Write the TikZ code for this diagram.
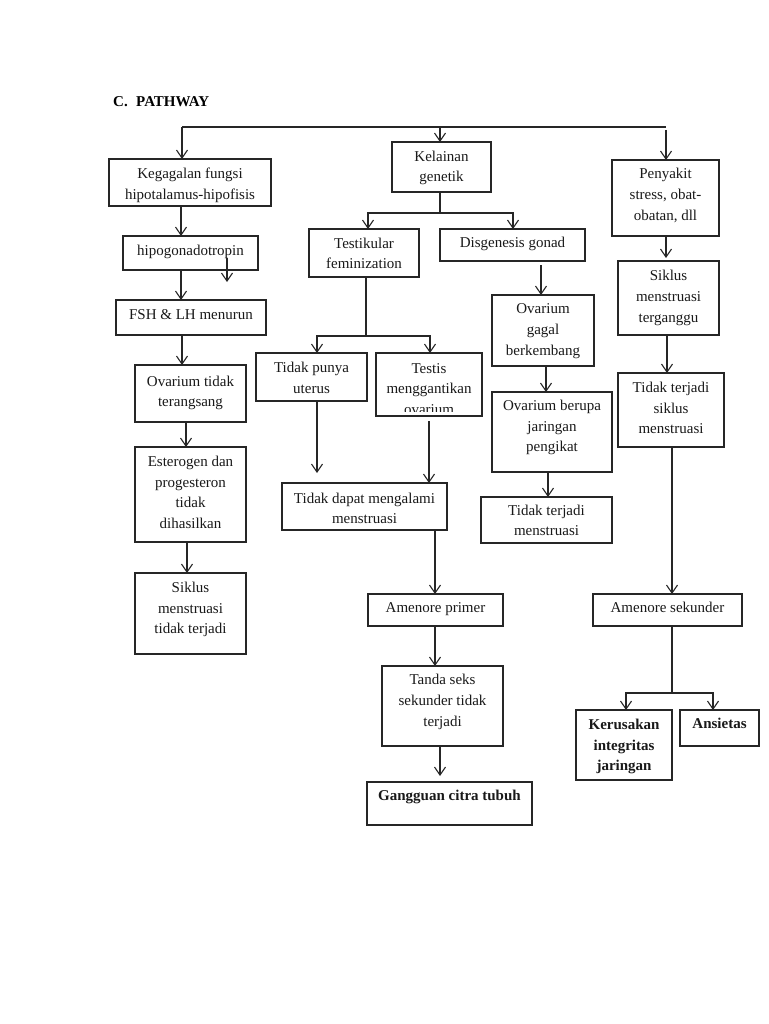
\documentclass[tikz,border=0pt]{standalone}
\usepackage{fontspec}
\setmainfont{Liberation Serif}
\usetikzlibrary{arrows.meta}
\tikzset{
  boxst/.style={draw=black!85, line width=1.1pt, rectangle, inner sep=0pt, outer sep=0pt},
  txt/.style={font=\fontsize{15}{20.8}\selectfont, align=center, inner sep=0pt, text=black!90,
              execute at begin node=\strut, execute at end node=\strut},
  ln/.style={draw=black!85, line width=1.1pt},
  arr/.style={ln, -{Straight Barb[length=8pt,width=11pt,line width=1.1pt]}},
  ttl/.style={font=\fontsize{15}{18}\selectfont\bfseries, inner sep=0pt, anchor=base west}
}
\newcommand\PBox[7]{%
  \node[boxst, minimum width={(#4)-(#2)}, minimum height={(#5)-(#3)}] (#1) at ({((#2)+(#4))/2},{((#3)+(#5))/2}) {};
  \node[txt] (#1t) at ({((#2)+(#4))/2},#6) {#7};
}
\begin{document}
\begin{tikzpicture}[x=1pt,y=-1pt]
\fill[white] (0,0) rectangle (768,1024);
\useasboundingbox (0,0) rectangle (768,1024);

% title
\node[ttl] (tc) at (113,107) {C.};
\node[ttl] (tp) at (136,107) {PATHWAY};

% left column
\PBox{keg}{109}{159}{271}{206}{187}{Kegagalan fungsi\\hipotalamus-hipofisis}
\PBox{hipo}{123}{236}{258}{270}{251}{hipogonadotropin}
\PBox{fsh}{116}{300}{266}{335}{315}{FSH \& LH menurun}
\PBox{ovt}{135}{365}{246}{422}{394.5}{Ovarium tidak\\terangsang}
\PBox{est}{135}{447}{246}{542}{495.5}{Esterogen dan\\progesteron\\tidak\\dihasilkan}
\PBox{sikA}{135}{573}{246}{654}{611}{Siklus\\menstruasi\\tidak terjadi}

% middle column
\PBox{kel}{392}{142}{491}{192}{169.5}{Kelainan\\genetik}
\PBox{testik}{309}{229}{419}{277}{256.5}{Testikular\\feminization}
\PBox{disg}{440}{229}{585}{261}{243}{Disgenesis gonad}
\PBox{tpu}{256}{353}{367}{401}{381}{Tidak punya\\uterus}
\node[boxst, minimum width=106, minimum height=63] (tes) at (429,384.5) {};
\begin{scope}
  \clip (tes.north west) rectangle ([yshift=5pt]tes.south east);
  \node[txt] (test) at (429,392) {Testis\\menggantikan\\ovarium};
\end{scope}
\PBox{tdm}{282}{483}{447}{530}{511.5}{Tidak dapat mengalami\\menstruasi}
\PBox{ovg}{492}{295}{594}{366}{332.5}{Ovarium\\gagal\\berkembang}
\PBox{ovb}{492}{392}{612}{472}{429}{Ovarium berupa\\jaringan\\pengikat}
\PBox{ttm}{481}{497}{612}{543}{523.5}{Tidak terjadi\\menstruasi}
\PBox{amp}{368}{594}{503}{626}{608.5}{Amenore primer}
\PBox{tanda}{382}{666}{503}{746}{703.5}{Tanda seks\\sekunder tidak\\terjadi}
\PBox{gang}{367}{782}{532}{825}{796}{\textbf{Gangguan citra tubuh}}

% right column
\PBox{pen}{612}{160}{719}{236}{197.5}{Penyakit\\stress, obat-\\obatan, dll}
\PBox{sikB}{618}{261}{719}{335}{299.5}{Siklus\\menstruasi\\terganggu}
\PBox{tts}{618}{373}{724}{447}{411}{Tidak terjadi\\siklus\\menstruasi}
\PBox{ams}{593}{594}{742}{626}{608}{Amenore sekunder}
\PBox{ker}{576}{710}{672}{780}{748}{\textbf{Kerusakan}\\\textbf{integritas}\\\textbf{jaringan}}
\PBox{ans}{680}{710}{759}{746}{724}{\textbf{Ansietas}}

% coordinates
\coordinate (tl) at (182,127);
\coordinate (tr) at (666,127);
\coordinate (tm) at (440,127);
\coordinate (trs) at (666,130);
\coordinate (xa) at (181,0);
\coordinate (xb) at (182,0);
\coordinate (xc) at (186,0);
\coordinate (xd) at (187,0);
\coordinate (xi) at (227,258);
\coordinate (j1) at (440,213);
\coordinate (j1L) at (368,213);
\coordinate (j1R) at (513,213);
\coordinate (j2) at (366,336);
\coordinate (j2L) at (317,336);
\coordinate (j2R) at (430,336);
\coordinate (xe) at (317,473);
\coordinate (xf) at (429,421);
\coordinate (xg) at (435,0);
\coordinate (xh) at (440,776);
\coordinate (xm) at (541,265);
\coordinate (xn) at (546,0);
\coordinate (xo) at (548,0);
\coordinate (xk) at (666,258);
\coordinate (xp) at (667,0);
\coordinate (xq) at (672,0);
\coordinate (j3) at (672,693);
\coordinate (j3L) at (626,693);
\coordinate (j3R) at (713,693);

% top connectors
\draw[ln] (tl) -- (tr);
\draw[arr] (tl) -- (tl |- keg.north);
\draw[arr] (tm) -- (tm |- kel.north);
\draw[arr] (trs) -- (trs |- pen.north);

% left connectors
\draw[arr] (keg.south -| xa) -- (hipo.north -| xa);
\draw[arr] (xi) -- ++(0,24);
\draw[arr] (hipo.south -| xa) -- (fsh.north -| xa);
\draw[arr] (fsh.south -| xb) -- (ovt.north -| xb);
\draw[arr] (ovt.south -| xc) -- (est.north -| xc);
\draw[arr] (est.south -| xd) -- (sikA.north -| xd);

% middle connectors
\draw[ln] (kel.south -| j1) -- (j1);
\draw[arr] (j1) -- (j1L) -- (j1L |- testik.north);
\draw[arr] (j1) -- (j1R) -- (j1R |- disg.north);
\draw[ln] (testik.south -| j2) -- (j2);
\draw[arr] (j2) -- (j2L) -- (j2L |- tpu.north);
\draw[arr] (j2) -- (j2R) -- (j2R |- tes.north);
\draw[arr] (tpu.south -| xe) -- (xe);
\draw[arr] (xf) -- (xf |- tdm.north);
\draw[arr] (tdm.south -| xg) -- (amp.north -| xg);
\draw[arr] (amp.south -| xg) -- (tanda.north -| xg);
\draw[arr] (tanda.south -| xh) -- (xh);
\draw[arr] (xm) -- (xm |- ovg.north);
\draw[arr] (ovg.south -| xn) -- (ovb.north -| xn);
\draw[arr] (ovb.south -| xo) -- (ttm.north -| xo);

% right connectors
\draw[arr] (pen.south -| xk) -- (xk);
\draw[arr] (sikB.south -| xp) -- (tts.north -| xp);
\draw[arr] (tts.south -| xq) -- (ams.north -| xq);
\draw[ln] (ams.south -| j3) -- (j3);
\draw[arr] (j3) -- (j3L) -- (j3L |- ker.north);
\draw[arr] (j3) -- (j3R) -- (j3R |- ans.north);
\end{tikzpicture}
\end{document}
